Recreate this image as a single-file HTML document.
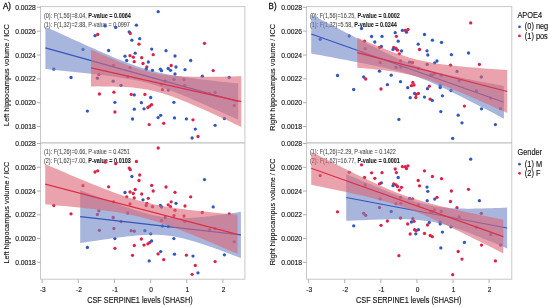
<!DOCTYPE html>
<html><head><meta charset="utf-8"><style>
html,body{margin:0;padding:0;background:#fff;width:550px;height:307px;overflow:hidden;}
svg{display:block;font-family:"Liberation Sans",sans-serif;will-change:transform;}
</style></head><body><svg width="550" height="307" viewBox="0 0 550 307"><rect x="40.5" y="6.6" width="204.4" height="272.6" fill="none" stroke="#c8c8c8" stroke-width="1"/><line x1="40.5" y1="142.9" x2="244.9" y2="142.9" stroke="#b0b0b0" stroke-width="1"/><rect x="306.5" y="6.6" width="205.3" height="272.6" fill="none" stroke="#c8c8c8" stroke-width="1"/><line x1="306.5" y1="142.9" x2="511.8" y2="142.9" stroke="#b0b0b0" stroke-width="1"/><defs><clipPath id="cTL"><rect x="41" y="7" width="203" height="135.5"/></clipPath><clipPath id="cBL"><rect x="41" y="143.5" width="203" height="135.5"/></clipPath><clipPath id="cTR"><rect x="307" y="7" width="204" height="135.5"/></clipPath><clipPath id="cBR"><rect x="307" y="143.5" width="204" height="135.5"/></clipPath></defs><text transform="translate(44.00,17.60) scale(1,1.15)" font-size="5.5" fill="#4a4a4a" stroke="#4a4a4a" stroke-width="0.06" font-family="Liberation Sans, sans-serif" xml:space="preserve">(0): F(1,56)=8.04, <tspan font-weight="bold" fill="#1a1a1a" stroke="#1a1a1a">P-value = 0.0064</tspan></text><text transform="translate(44.00,26.70) scale(1,1.15)" font-size="5.5" fill="#4a4a4a" stroke="#4a4a4a" stroke-width="0.06" font-family="Liberation Sans, sans-serif" xml:space="preserve">(1): F(1,32)=2.88, <tspan>P-value = 0.0997</tspan></text><text transform="translate(44.00,153.50) scale(1,1.15)" font-size="5.5" fill="#4a4a4a" stroke="#4a4a4a" stroke-width="0.06" font-family="Liberation Sans, sans-serif" xml:space="preserve">(1): F(1,26)=0.66, <tspan>P-value = 0.4251</tspan></text><text transform="translate(44.00,162.60) scale(1,1.15)" font-size="5.5" fill="#4a4a4a" stroke="#4a4a4a" stroke-width="0.06" font-family="Liberation Sans, sans-serif" xml:space="preserve">(2): F(1,62)=7.00, <tspan font-weight="bold" fill="#1a1a1a" stroke="#1a1a1a">P-value = 0.0103</tspan></text><text transform="translate(310.00,17.60) scale(1,1.15)" font-size="5.5" fill="#4a4a4a" stroke="#4a4a4a" stroke-width="0.06" font-family="Liberation Sans, sans-serif" xml:space="preserve">(0): F(1,56)=16.25, <tspan font-weight="bold" fill="#1a1a1a" stroke="#1a1a1a">P-value = 0.0002</tspan></text><text transform="translate(310.00,26.70) scale(1,1.15)" font-size="5.5" fill="#4a4a4a" stroke="#4a4a4a" stroke-width="0.06" font-family="Liberation Sans, sans-serif" xml:space="preserve">(1): F(1,32)=5.58, <tspan font-weight="bold" fill="#1a1a1a" stroke="#1a1a1a">P-value = 0.0244</tspan></text><text transform="translate(310.00,153.50) scale(1,1.15)" font-size="5.5" fill="#4a4a4a" stroke="#4a4a4a" stroke-width="0.06" font-family="Liberation Sans, sans-serif" xml:space="preserve">(1): F(1,26)=2.29, <tspan>P-value = 0.1422</tspan></text><text transform="translate(310.00,162.60) scale(1,1.15)" font-size="5.5" fill="#4a4a4a" stroke="#4a4a4a" stroke-width="0.06" font-family="Liberation Sans, sans-serif" xml:space="preserve">(2): F(1,62)=16.77, <tspan font-weight="bold" fill="#1a1a1a" stroke="#1a1a1a">P-value = 0.0001</tspan></text><g clip-path="url(#cTL)"><circle cx="158.2" cy="11.7" r="1.65" fill="#2f58c0"/><circle cx="105.2" cy="25.9" r="1.65" fill="#2f58c0"/><circle cx="115.7" cy="27.4" r="1.65" fill="#2f58c0"/><circle cx="136.4" cy="25.2" r="1.65" fill="#2f58c0"/><circle cx="129.2" cy="31.8" r="1.65" fill="#2f58c0"/><circle cx="130.3" cy="33.4" r="1.65" fill="#dc2248"/><circle cx="95.0" cy="35.7" r="1.65" fill="#2f58c0"/><circle cx="97.7" cy="34.5" r="1.65" fill="#dc2248"/><circle cx="139.7" cy="38.7" r="1.65" fill="#2f58c0"/><circle cx="131.9" cy="40.2" r="1.65" fill="#2f58c0"/><circle cx="139.0" cy="44.2" r="1.65" fill="#dc2248"/><circle cx="204.5" cy="43.3" r="1.65" fill="#dc2248"/><circle cx="83.0" cy="49.4" r="1.65" fill="#2f58c0"/><circle cx="108.6" cy="50.5" r="1.65" fill="#2f58c0"/><circle cx="151.7" cy="49.1" r="1.65" fill="#2f58c0"/><circle cx="166.0" cy="50.7" r="1.65" fill="#2f58c0"/><circle cx="135.2" cy="53.2" r="1.65" fill="#2f58c0"/><circle cx="125.0" cy="56.2" r="1.65" fill="#2f58c0"/><circle cx="130.0" cy="55.7" r="1.65" fill="#dc2248"/><circle cx="133.3" cy="57.2" r="1.65" fill="#dc2248"/><circle cx="141.7" cy="57.7" r="1.65" fill="#dc2248"/><circle cx="153.2" cy="54.7" r="1.65" fill="#dc2248"/><circle cx="126.7" cy="60.5" r="1.65" fill="#2f58c0"/><circle cx="134.2" cy="61.7" r="1.65" fill="#dc2248"/><circle cx="148.3" cy="62.0" r="1.65" fill="#2f58c0"/><circle cx="143.0" cy="63.5" r="1.65" fill="#dc2248"/><circle cx="146.8" cy="67.0" r="1.65" fill="#dc2248"/><circle cx="146.2" cy="69.2" r="1.65" fill="#2f58c0"/><circle cx="152.5" cy="70.4" r="1.65" fill="#2f58c0"/><circle cx="160.4" cy="69.2" r="1.65" fill="#2f58c0"/><circle cx="161.5" cy="70.7" r="1.65" fill="#2f58c0"/><circle cx="168.2" cy="68.5" r="1.65" fill="#2f58c0"/><circle cx="175.0" cy="56.0" r="1.65" fill="#2f58c0"/><circle cx="190.7" cy="60.5" r="1.65" fill="#2f58c0"/><circle cx="171.2" cy="65.5" r="1.65" fill="#dc2248"/><circle cx="176.0" cy="67.0" r="1.65" fill="#2f58c0"/><circle cx="170.5" cy="70.3" r="1.65" fill="#2f58c0"/><circle cx="185.0" cy="69.7" r="1.65" fill="#2f58c0"/><circle cx="175.0" cy="74.0" r="1.65" fill="#2f58c0"/><circle cx="213.2" cy="70.6" r="1.65" fill="#dc2248"/><circle cx="202.3" cy="76.2" r="1.65" fill="#2f58c0"/><circle cx="53.8" cy="69.2" r="1.65" fill="#2f58c0"/><circle cx="71.0" cy="77.5" r="1.65" fill="#2f58c0"/><circle cx="98.9" cy="74.5" r="1.65" fill="#dc2248"/><circle cx="97.4" cy="78.2" r="1.65" fill="#2f58c0"/><circle cx="113.5" cy="65.5" r="1.65" fill="#dc2248"/><circle cx="130.0" cy="67.7" r="1.65" fill="#dc2248"/><circle cx="127.7" cy="76.7" r="1.65" fill="#dc2248"/><circle cx="113.2" cy="81.2" r="1.65" fill="#2f58c0"/><circle cx="121.0" cy="85.3" r="1.65" fill="#2f58c0"/><circle cx="113.9" cy="92.2" r="1.65" fill="#dc2248"/><circle cx="174.0" cy="79.3" r="1.65" fill="#2f58c0"/><circle cx="184.0" cy="79.7" r="1.65" fill="#dc2248"/><circle cx="229.2" cy="77.5" r="1.65" fill="#2f58c0"/><circle cx="184.7" cy="85.3" r="1.65" fill="#dc2248"/><circle cx="165.2" cy="81.2" r="1.65" fill="#2f58c0"/><circle cx="162.5" cy="89.7" r="1.65" fill="#dc2248"/><circle cx="168.3" cy="90.1" r="1.65" fill="#2f58c0"/><circle cx="99.4" cy="94.0" r="1.65" fill="#dc2248"/><circle cx="87.4" cy="111.1" r="1.65" fill="#2f58c0"/><circle cx="131.2" cy="94.4" r="1.65" fill="#dc2248"/><circle cx="134.3" cy="94.9" r="1.65" fill="#2f58c0"/><circle cx="144.9" cy="94.4" r="1.65" fill="#dc2248"/><circle cx="150.7" cy="97.5" r="1.65" fill="#2f58c0"/><circle cx="114.9" cy="102.3" r="1.65" fill="#2f58c0"/><circle cx="141.4" cy="102.7" r="1.65" fill="#2f58c0"/><circle cx="134.3" cy="109.2" r="1.65" fill="#2f58c0"/><circle cx="144.0" cy="108.8" r="1.65" fill="#2f58c0"/><circle cx="147.9" cy="107.5" r="1.65" fill="#dc2248"/><circle cx="149.8" cy="106.1" r="1.65" fill="#dc2248"/><circle cx="151.6" cy="104.6" r="1.65" fill="#dc2248"/><circle cx="114.9" cy="112.0" r="1.65" fill="#dc2248"/><circle cx="132.5" cy="119.0" r="1.65" fill="#2f58c0"/><circle cx="158.1" cy="117.6" r="1.65" fill="#2f58c0"/><circle cx="160.7" cy="115.3" r="1.65" fill="#2f58c0"/><circle cx="149.2" cy="124.6" r="1.65" fill="#dc2248"/><circle cx="163.7" cy="123.3" r="1.65" fill="#dc2248"/><circle cx="173.9" cy="102.3" r="1.65" fill="#2f58c0"/><circle cx="174.5" cy="117.9" r="1.65" fill="#2f58c0"/><circle cx="186.4" cy="118.9" r="1.65" fill="#2f58c0"/><circle cx="193.0" cy="119.8" r="1.65" fill="#dc2248"/><circle cx="195.3" cy="129.1" r="1.65" fill="#2f58c0"/><circle cx="192.1" cy="138.0" r="1.65" fill="#2f58c0"/><circle cx="198.0" cy="136.5" r="1.65" fill="#dc2248"/><circle cx="215.1" cy="125.3" r="1.65" fill="#2f58c0"/><circle cx="224.4" cy="118.5" r="1.65" fill="#2f58c0"/><circle cx="234.2" cy="105.5" r="1.65" fill="#dc2248"/><circle cx="215.1" cy="92.3" r="1.65" fill="#2f58c0"/><circle cx="209.5" cy="93.6" r="1.65" fill="#dc2248"/><circle cx="161.5" cy="84.2" r="1.65" fill="#dc2248"/><path d="M45.40,26.68 L50.22,28.90 L55.04,31.11 L59.86,33.32 L64.68,35.53 L69.50,37.72 L74.32,39.91 L79.14,42.09 L83.96,44.26 L88.78,46.41 L93.60,48.55 L98.42,50.67 L103.24,52.77 L108.06,54.84 L112.88,56.88 L117.70,58.88 L122.52,60.82 L127.34,62.71 L132.16,64.51 L136.98,66.23 L141.80,67.84 L146.62,69.34 L151.44,70.71 L156.26,71.95 L161.08,73.07 L165.90,74.08 L170.72,75.00 L175.54,75.83 L180.36,76.59 L185.18,77.30 L190.00,77.97 L194.82,78.60 L199.64,79.20 L204.46,79.78 L209.28,80.33 L214.10,80.87 L218.92,81.39 L223.74,81.91 L228.56,82.41 L233.38,82.90 L238.20,83.39 L238.20,119.81 L233.38,117.61 L228.56,115.42 L223.74,113.23 L218.92,111.06 L214.10,108.89 L209.28,106.74 L204.46,104.61 L199.64,102.50 L194.82,100.41 L190.00,98.35 L185.18,96.33 L180.36,94.36 L175.54,92.43 L170.72,90.58 L165.90,88.81 L161.08,87.13 L156.26,85.56 L151.44,84.12 L146.62,82.80 L141.80,81.61 L136.98,80.53 L132.16,79.56 L127.34,78.68 L122.52,77.88 L117.70,77.14 L112.88,76.44 L108.06,75.79 L103.24,75.18 L98.42,74.59 L93.60,74.02 L88.78,73.47 L83.96,72.94 L79.14,72.42 L74.32,71.91 L69.50,71.41 L64.68,70.92 L59.86,70.44 L55.04,69.96 L50.22,69.49 L45.40,69.02 Z" fill="rgba(110,132,197,0.6)"/><line x1="45.40" y1="47.85" x2="238.20" y2="101.60" stroke="#3456be" stroke-width="1.2"/><path d="M91.00,49.40 L94.76,51.10 L98.52,52.80 L102.27,54.47 L106.03,56.12 L109.79,57.76 L113.55,59.36 L117.30,60.93 L121.06,62.47 L124.82,63.95 L128.57,65.39 L132.33,66.77 L136.09,68.07 L139.85,69.29 L143.61,70.42 L147.36,71.45 L151.12,72.38 L154.88,73.19 L158.63,73.89 L162.39,74.50 L166.15,75.00 L169.91,75.42 L173.67,75.76 L177.42,76.04 L181.18,76.25 L184.94,76.43 L188.69,76.56 L192.45,76.65 L196.21,76.72 L199.97,76.76 L203.72,76.78 L207.48,76.78 L211.24,76.76 L215.00,76.74 L218.76,76.70 L222.51,76.65 L226.27,76.59 L230.03,76.52 L233.79,76.45 L237.54,76.37 L241.30,76.28 L241.30,126.92 L237.54,125.15 L233.79,123.38 L230.03,121.62 L226.27,119.87 L222.51,118.13 L218.76,116.39 L215.00,114.67 L211.24,112.96 L207.48,111.26 L203.72,109.57 L199.97,107.91 L196.21,106.26 L192.45,104.64 L188.69,103.05 L184.94,101.50 L181.18,99.99 L177.42,98.52 L173.67,97.11 L169.91,95.77 L166.15,94.50 L162.39,93.32 L158.63,92.24 L154.88,91.25 L151.12,90.38 L147.36,89.62 L143.61,88.97 L139.85,88.41 L136.09,87.95 L132.33,87.57 L128.57,87.26 L124.82,87.01 L121.06,86.81 L117.30,86.66 L113.55,86.55 L109.79,86.47 L106.03,86.42 L102.27,86.39 L98.52,86.37 L94.76,86.38 L91.00,86.40 Z" fill="rgba(220,102,117,0.6)"/><line x1="91.00" y1="67.90" x2="241.30" y2="101.60" stroke="#dd3048" stroke-width="1.2"/></g><g clip-path="url(#cBL)"><circle cx="158.2" cy="148.0" r="1.65" fill="#dc2248"/><circle cx="105.2" cy="162.2" r="1.65" fill="#dc2248"/><circle cx="115.7" cy="163.7" r="1.65" fill="#dc2248"/><circle cx="136.4" cy="161.5" r="1.65" fill="#dc2248"/><circle cx="129.2" cy="168.1" r="1.65" fill="#dc2248"/><circle cx="130.3" cy="169.7" r="1.65" fill="#dc2248"/><circle cx="95.0" cy="172.0" r="1.65" fill="#dc2248"/><circle cx="97.7" cy="170.8" r="1.65" fill="#dc2248"/><circle cx="139.7" cy="175.0" r="1.65" fill="#dc2248"/><circle cx="131.9" cy="176.5" r="1.65" fill="#2f58c0"/><circle cx="139.0" cy="180.5" r="1.65" fill="#dc2248"/><circle cx="204.5" cy="179.6" r="1.65" fill="#2f58c0"/><circle cx="83.0" cy="185.7" r="1.65" fill="#dc2248"/><circle cx="108.6" cy="186.8" r="1.65" fill="#dc2248"/><circle cx="151.7" cy="185.4" r="1.65" fill="#dc2248"/><circle cx="166.0" cy="187.0" r="1.65" fill="#dc2248"/><circle cx="135.2" cy="189.5" r="1.65" fill="#dc2248"/><circle cx="125.0" cy="192.5" r="1.65" fill="#2f58c0"/><circle cx="130.0" cy="192.0" r="1.65" fill="#dc2248"/><circle cx="133.3" cy="193.5" r="1.65" fill="#dc2248"/><circle cx="141.7" cy="194.0" r="1.65" fill="#dc2248"/><circle cx="153.2" cy="191.0" r="1.65" fill="#dc2248"/><circle cx="126.7" cy="196.8" r="1.65" fill="#dc2248"/><circle cx="134.2" cy="198.0" r="1.65" fill="#dc2248"/><circle cx="148.3" cy="198.3" r="1.65" fill="#dc2248"/><circle cx="143.0" cy="199.8" r="1.65" fill="#2f58c0"/><circle cx="146.8" cy="203.3" r="1.65" fill="#dc2248"/><circle cx="146.2" cy="205.5" r="1.65" fill="#dc2248"/><circle cx="152.5" cy="206.7" r="1.65" fill="#dc2248"/><circle cx="160.4" cy="205.5" r="1.65" fill="#2f58c0"/><circle cx="161.5" cy="207.0" r="1.65" fill="#2f58c0"/><circle cx="168.2" cy="204.8" r="1.65" fill="#dc2248"/><circle cx="175.0" cy="192.3" r="1.65" fill="#dc2248"/><circle cx="190.7" cy="196.8" r="1.65" fill="#dc2248"/><circle cx="171.2" cy="201.8" r="1.65" fill="#dc2248"/><circle cx="176.0" cy="203.3" r="1.65" fill="#2f58c0"/><circle cx="170.5" cy="206.6" r="1.65" fill="#dc2248"/><circle cx="185.0" cy="206.0" r="1.65" fill="#dc2248"/><circle cx="175.0" cy="210.3" r="1.65" fill="#dc2248"/><circle cx="213.2" cy="206.9" r="1.65" fill="#2f58c0"/><circle cx="202.3" cy="212.5" r="1.65" fill="#dc2248"/><circle cx="53.8" cy="205.5" r="1.65" fill="#dc2248"/><circle cx="71.0" cy="213.8" r="1.65" fill="#dc2248"/><circle cx="98.9" cy="210.8" r="1.65" fill="#dc2248"/><circle cx="97.4" cy="214.5" r="1.65" fill="#dc2248"/><circle cx="113.5" cy="201.8" r="1.65" fill="#dc2248"/><circle cx="130.0" cy="204.0" r="1.65" fill="#dc2248"/><circle cx="127.7" cy="213.0" r="1.65" fill="#dc2248"/><circle cx="113.2" cy="217.5" r="1.65" fill="#dc2248"/><circle cx="121.0" cy="221.6" r="1.65" fill="#dc2248"/><circle cx="113.9" cy="228.5" r="1.65" fill="#dc2248"/><circle cx="174.0" cy="215.6" r="1.65" fill="#dc2248"/><circle cx="184.0" cy="216.0" r="1.65" fill="#dc2248"/><circle cx="229.2" cy="213.8" r="1.65" fill="#dc2248"/><circle cx="184.7" cy="221.6" r="1.65" fill="#dc2248"/><circle cx="165.2" cy="217.5" r="1.65" fill="#2f58c0"/><circle cx="162.5" cy="226.0" r="1.65" fill="#2f58c0"/><circle cx="168.3" cy="226.4" r="1.65" fill="#2f58c0"/><circle cx="99.4" cy="230.3" r="1.65" fill="#dc2248"/><circle cx="87.4" cy="247.4" r="1.65" fill="#2f58c0"/><circle cx="131.2" cy="230.7" r="1.65" fill="#dc2248"/><circle cx="134.3" cy="231.2" r="1.65" fill="#dc2248"/><circle cx="144.9" cy="230.7" r="1.65" fill="#2f58c0"/><circle cx="150.7" cy="233.8" r="1.65" fill="#2f58c0"/><circle cx="114.9" cy="238.6" r="1.65" fill="#2f58c0"/><circle cx="141.4" cy="239.0" r="1.65" fill="#dc2248"/><circle cx="134.3" cy="245.5" r="1.65" fill="#dc2248"/><circle cx="144.0" cy="245.1" r="1.65" fill="#dc2248"/><circle cx="147.9" cy="243.8" r="1.65" fill="#dc2248"/><circle cx="149.8" cy="242.4" r="1.65" fill="#dc2248"/><circle cx="151.6" cy="240.9" r="1.65" fill="#2f58c0"/><circle cx="114.9" cy="248.3" r="1.65" fill="#dc2248"/><circle cx="132.5" cy="255.3" r="1.65" fill="#dc2248"/><circle cx="158.1" cy="253.9" r="1.65" fill="#dc2248"/><circle cx="160.7" cy="251.6" r="1.65" fill="#2f58c0"/><circle cx="149.2" cy="260.9" r="1.65" fill="#2f58c0"/><circle cx="163.7" cy="259.6" r="1.65" fill="#dc2248"/><circle cx="173.9" cy="238.6" r="1.65" fill="#2f58c0"/><circle cx="174.5" cy="254.2" r="1.65" fill="#2f58c0"/><circle cx="186.4" cy="255.2" r="1.65" fill="#dc2248"/><circle cx="193.0" cy="256.1" r="1.65" fill="#2f58c0"/><circle cx="195.3" cy="265.4" r="1.65" fill="#dc2248"/><circle cx="192.1" cy="274.3" r="1.65" fill="#dc2248"/><circle cx="198.0" cy="272.8" r="1.65" fill="#2f58c0"/><circle cx="215.1" cy="261.6" r="1.65" fill="#dc2248"/><circle cx="224.4" cy="254.8" r="1.65" fill="#2f58c0"/><circle cx="234.2" cy="241.8" r="1.65" fill="#2f58c0"/><circle cx="215.1" cy="228.6" r="1.65" fill="#dc2248"/><circle cx="209.5" cy="229.9" r="1.65" fill="#2f58c0"/><circle cx="161.5" cy="220.5" r="1.65" fill="#dc2248"/><path d="M80.20,190.11 L84.22,191.65 L88.23,193.18 L92.25,194.71 L96.27,196.22 L100.29,197.73 L104.31,199.23 L108.32,200.71 L112.34,202.17 L116.36,203.62 L120.38,205.05 L124.39,206.45 L128.41,207.82 L132.43,209.15 L136.44,210.44 L140.46,211.67 L144.48,212.84 L148.50,213.93 L152.51,214.92 L156.53,215.80 L160.55,216.56 L164.57,217.18 L168.58,217.65 L172.60,217.98 L176.62,218.17 L180.64,218.22 L184.66,218.17 L188.67,218.01 L192.69,217.78 L196.71,217.47 L200.73,217.11 L204.74,216.70 L208.76,216.25 L212.78,215.77 L216.79,215.27 L220.81,214.74 L224.83,214.19 L228.85,213.63 L232.87,213.05 L236.88,212.46 L240.90,211.86 L240.90,257.94 L236.88,256.43 L232.87,254.92 L228.85,253.43 L224.83,251.95 L220.81,250.49 L216.79,249.04 L212.78,247.62 L208.76,246.23 L204.74,244.87 L200.73,243.54 L196.71,242.26 L192.69,241.04 L188.67,239.89 L184.66,238.82 L180.64,237.85 L176.62,236.99 L172.60,236.27 L168.58,235.68 L164.57,235.23 L160.55,234.94 L156.53,234.78 L152.51,234.75 L148.50,234.83 L144.48,235.00 L140.46,235.25 L136.44,235.57 L132.43,235.94 L128.41,236.36 L124.39,236.82 L120.38,237.30 L116.36,237.81 L112.34,238.35 L108.32,238.90 L104.31,239.46 L100.29,240.04 L96.27,240.64 L92.25,241.24 L88.23,241.85 L84.22,242.46 L80.20,243.09 Z" fill="rgba(110,132,197,0.6)"/><line x1="80.20" y1="216.60" x2="240.90" y2="234.90" stroke="#3456be" stroke-width="1.2"/><path d="M45.20,164.06 L50.01,166.14 L54.82,168.22 L59.62,170.28 L64.43,172.34 L69.24,174.39 L74.05,176.42 L78.85,178.44 L83.66,180.44 L88.47,182.43 L93.28,184.38 L98.08,186.31 L102.89,188.21 L107.70,190.07 L112.51,191.88 L117.31,193.63 L122.12,195.32 L126.93,196.94 L131.74,198.47 L136.54,199.90 L141.35,201.24 L146.16,202.48 L150.97,203.61 L155.77,204.65 L160.58,205.60 L165.39,206.46 L170.19,207.26 L175.00,207.99 L179.81,208.67 L184.62,209.30 L189.43,209.90 L194.23,210.47 L199.04,211.01 L203.85,211.52 L208.66,212.02 L213.46,212.50 L218.27,212.97 L223.08,213.42 L227.88,213.87 L232.69,214.30 L237.50,214.73 L237.50,253.87 L232.69,251.79 L227.88,249.72 L223.08,247.66 L218.27,245.61 L213.46,243.57 L208.66,241.55 L203.85,239.54 L199.04,237.55 L194.23,235.59 L189.43,233.65 L184.62,231.74 L179.81,229.87 L175.00,228.05 L170.19,226.27 L165.39,224.56 L160.58,222.92 L155.77,221.36 L150.97,219.90 L146.16,218.52 L141.35,217.26 L136.54,216.09 L131.74,215.02 L126.93,214.05 L122.12,213.16 L117.31,212.35 L112.51,211.59 L107.70,210.90 L102.89,210.25 L98.08,209.64 L93.28,209.07 L88.47,208.52 L83.66,208.00 L78.85,207.49 L74.05,207.01 L69.24,206.54 L64.43,206.08 L59.62,205.63 L54.82,205.19 L50.01,204.76 L45.20,204.34 Z" fill="rgba(220,102,117,0.6)"/><line x1="45.20" y1="184.20" x2="237.50" y2="234.30" stroke="#dd3048" stroke-width="1.2"/></g><g clip-path="url(#cTR)"><circle cx="320.2" cy="39.3" r="1.65" fill="#2f58c0"/><circle cx="349.2" cy="36.0" r="1.65" fill="#2f58c0"/><circle cx="361.5" cy="28.5" r="1.65" fill="#2f58c0"/><circle cx="364.5" cy="41.2" r="1.65" fill="#dc2248"/><circle cx="365.2" cy="48.7" r="1.65" fill="#dc2248"/><circle cx="371.6" cy="36.5" r="1.65" fill="#2f58c0"/><circle cx="374.8" cy="42.0" r="1.65" fill="#2f58c0"/><circle cx="382.0" cy="36.4" r="1.65" fill="#2f58c0"/><circle cx="395.2" cy="32.7" r="1.65" fill="#2f58c0"/><circle cx="396.4" cy="36.3" r="1.65" fill="#dc2248"/><circle cx="402.4" cy="30.4" r="1.65" fill="#2f58c0"/><circle cx="405.3" cy="30.4" r="1.65" fill="#dc2248"/><circle cx="408.0" cy="29.5" r="1.65" fill="#dc2248"/><circle cx="406.5" cy="32.2" r="1.65" fill="#2f58c0"/><circle cx="398.2" cy="41.2" r="1.65" fill="#2f58c0"/><circle cx="424.5" cy="34.5" r="1.65" fill="#2f58c0"/><circle cx="432.4" cy="40.2" r="1.65" fill="#2f58c0"/><circle cx="418.2" cy="44.2" r="1.65" fill="#2f58c0"/><circle cx="419.5" cy="49.5" r="1.65" fill="#dc2248"/><circle cx="381.4" cy="46.5" r="1.65" fill="#2f58c0"/><circle cx="379.5" cy="47.5" r="1.65" fill="#dc2248"/><circle cx="393.7" cy="47.5" r="1.65" fill="#dc2248"/><circle cx="396.0" cy="48.5" r="1.65" fill="#dc2248"/><circle cx="397.5" cy="50.2" r="1.65" fill="#dc2248"/><circle cx="393.0" cy="49.4" r="1.65" fill="#2f58c0"/><circle cx="401.5" cy="51.0" r="1.65" fill="#2f58c0"/><circle cx="427.0" cy="50.8" r="1.65" fill="#2f58c0"/><circle cx="399.3" cy="53.8" r="1.65" fill="#dc2248"/><circle cx="427.8" cy="55.0" r="1.65" fill="#2f58c0"/><circle cx="434.7" cy="62.8" r="1.65" fill="#2f58c0"/><circle cx="470.7" cy="22.9" r="1.65" fill="#dc2248"/><circle cx="441.5" cy="42.4" r="1.65" fill="#2f58c0"/><circle cx="337.5" cy="75.5" r="1.65" fill="#2f58c0"/><circle cx="363.7" cy="77.0" r="1.65" fill="#2f58c0"/><circle cx="365.7" cy="79.0" r="1.65" fill="#dc2248"/><circle cx="353.7" cy="89.5" r="1.65" fill="#2f58c0"/><circle cx="380.2" cy="62.5" r="1.65" fill="#dc2248"/><circle cx="400.5" cy="61.0" r="1.65" fill="#dc2248"/><circle cx="409.5" cy="62.2" r="1.65" fill="#2f58c0"/><circle cx="412.5" cy="62.5" r="1.65" fill="#dc2248"/><circle cx="427.2" cy="64.4" r="1.65" fill="#2f58c0"/><circle cx="396.0" cy="67.4" r="1.65" fill="#2f58c0"/><circle cx="400.8" cy="67.0" r="1.65" fill="#dc2248"/><circle cx="418.5" cy="68.5" r="1.65" fill="#2f58c0"/><circle cx="432.0" cy="75.2" r="1.65" fill="#2f58c0"/><circle cx="379.5" cy="71.2" r="1.65" fill="#2f58c0"/><circle cx="391.2" cy="75.2" r="1.65" fill="#2f58c0"/><circle cx="400.5" cy="81.7" r="1.65" fill="#2f58c0"/><circle cx="387.4" cy="84.7" r="1.65" fill="#2f58c0"/><circle cx="412.8" cy="82.4" r="1.65" fill="#dc2248"/><circle cx="414.0" cy="85.0" r="1.65" fill="#dc2248"/><circle cx="411.4" cy="85.7" r="1.65" fill="#dc2248"/><circle cx="407.7" cy="87.7" r="1.65" fill="#2f58c0"/><circle cx="381.0" cy="89.0" r="1.65" fill="#dc2248"/><circle cx="429.3" cy="86.2" r="1.65" fill="#dc2248"/><circle cx="427.5" cy="88.7" r="1.65" fill="#2f58c0"/><circle cx="451.4" cy="54.7" r="1.65" fill="#2f58c0"/><circle cx="468.5" cy="53.0" r="1.65" fill="#2f58c0"/><circle cx="437.0" cy="61.0" r="1.65" fill="#2f58c0"/><circle cx="450.5" cy="65.2" r="1.65" fill="#dc2248"/><circle cx="479.4" cy="64.4" r="1.65" fill="#dc2248"/><circle cx="457.0" cy="71.4" r="1.65" fill="#2f58c0"/><circle cx="481.3" cy="77.0" r="1.65" fill="#2f58c0"/><circle cx="459.2" cy="80.7" r="1.65" fill="#2f58c0"/><circle cx="434.5" cy="73.7" r="1.65" fill="#dc2248"/><circle cx="441.2" cy="75.2" r="1.65" fill="#2f58c0"/><circle cx="430.7" cy="75.2" r="1.65" fill="#2f58c0"/><circle cx="440.2" cy="85.7" r="1.65" fill="#2f58c0"/><circle cx="440.2" cy="87.6" r="1.65" fill="#2f58c0"/><circle cx="451.0" cy="90.5" r="1.65" fill="#2f58c0"/><circle cx="476.4" cy="90.9" r="1.65" fill="#2f58c0"/><circle cx="430.2" cy="99.2" r="1.65" fill="#dc2248"/><circle cx="414.6" cy="93.4" r="1.65" fill="#2f58c0"/><circle cx="416.1" cy="94.4" r="1.65" fill="#dc2248"/><circle cx="418.4" cy="93.4" r="1.65" fill="#dc2248"/><circle cx="415.8" cy="97.5" r="1.65" fill="#dc2248"/><circle cx="410.2" cy="97.7" r="1.65" fill="#2f58c0"/><circle cx="424.5" cy="97.1" r="1.65" fill="#2f58c0"/><circle cx="432.3" cy="100.4" r="1.65" fill="#2f58c0"/><circle cx="442.4" cy="95.8" r="1.65" fill="#2f58c0"/><circle cx="464.4" cy="106.1" r="1.65" fill="#dc2248"/><circle cx="440.8" cy="111.6" r="1.65" fill="#2f58c0"/><circle cx="458.2" cy="115.2" r="1.65" fill="#2f58c0"/><circle cx="462.0" cy="122.8" r="1.65" fill="#2f58c0"/><circle cx="481.5" cy="108.8" r="1.65" fill="#2f58c0"/><circle cx="495.4" cy="124.6" r="1.65" fill="#2f58c0"/><circle cx="452.7" cy="138.4" r="1.65" fill="#2f58c0"/><circle cx="398.9" cy="119.4" r="1.65" fill="#2f58c0"/><circle cx="490.7" cy="98.1" r="1.65" fill="#dc2248"/><circle cx="500.6" cy="108.7" r="1.65" fill="#2f58c0"/><path d="M311.20,14.44 L316.02,16.97 L320.83,19.50 L325.65,22.02 L330.47,24.54 L335.29,27.06 L340.10,29.57 L344.92,32.07 L349.74,34.57 L354.56,37.05 L359.38,39.53 L364.19,41.99 L369.01,44.44 L373.83,46.86 L378.64,49.26 L383.46,51.63 L388.28,53.96 L393.10,56.23 L397.91,58.44 L402.73,60.57 L407.55,62.59 L412.37,64.49 L417.18,66.26 L422.00,67.90 L426.82,69.40 L431.64,70.78 L436.45,72.06 L441.27,73.26 L446.09,74.40 L450.91,75.49 L455.73,76.53 L460.54,77.54 L465.36,78.53 L470.18,79.50 L475.00,80.45 L479.81,81.39 L484.63,82.32 L489.45,83.24 L494.26,84.15 L499.08,85.05 L503.90,85.95 L503.90,118.65 L499.08,116.13 L494.26,113.62 L489.45,111.12 L484.63,108.62 L479.81,106.14 L475.00,103.66 L470.18,101.20 L465.36,98.75 L460.54,96.32 L455.73,93.92 L450.91,91.55 L446.09,89.22 L441.27,86.94 L436.45,84.73 L431.64,82.59 L426.82,80.56 L422.00,78.65 L417.18,76.87 L412.37,75.22 L407.55,73.71 L402.73,72.32 L397.91,71.03 L393.10,69.82 L388.28,68.68 L383.46,67.60 L378.64,66.55 L373.83,65.53 L369.01,64.54 L364.19,63.57 L359.38,62.62 L354.56,61.68 L349.74,60.75 L344.92,59.83 L340.10,58.92 L335.29,58.02 L330.47,57.12 L325.65,56.22 L320.83,55.33 L316.02,54.45 L311.20,53.56 Z" fill="rgba(110,132,197,0.6)"/><line x1="311.20" y1="34.00" x2="503.90" y2="102.30" stroke="#3456be" stroke-width="1.2"/><path d="M357.30,37.56 L361.05,39.19 L364.80,40.81 L368.54,42.40 L372.29,43.98 L376.04,45.53 L379.79,47.05 L383.53,48.54 L387.28,50.00 L391.03,51.41 L394.77,52.78 L398.52,54.09 L402.27,55.34 L406.02,56.53 L409.76,57.64 L413.51,58.68 L417.26,59.65 L421.01,60.53 L424.75,61.35 L428.50,62.10 L432.25,62.78 L436.00,63.40 L439.75,63.97 L443.49,64.49 L447.24,64.97 L450.99,65.42 L454.74,65.83 L458.48,66.22 L462.23,66.59 L465.98,66.93 L469.73,67.26 L473.47,67.57 L477.22,67.87 L480.97,68.16 L484.72,68.43 L488.46,68.70 L492.21,68.96 L495.96,69.21 L499.70,69.46 L503.45,69.70 L507.20,69.93 L507.20,113.07 L503.45,111.36 L499.70,109.65 L495.96,107.95 L492.21,106.26 L488.46,104.57 L484.72,102.90 L480.97,101.23 L477.22,99.57 L473.47,97.92 L469.73,96.29 L465.98,94.67 L462.23,93.07 L458.48,91.49 L454.74,89.94 L450.99,88.41 L447.24,86.91 L443.49,85.44 L439.75,84.02 L436.00,82.65 L432.25,81.32 L428.50,80.06 L424.75,78.86 L421.01,77.73 L417.26,76.67 L413.51,75.69 L409.76,74.79 L406.02,73.96 L402.27,73.20 L398.52,72.51 L394.77,71.87 L391.03,71.29 L387.28,70.76 L383.53,70.27 L379.79,69.82 L376.04,69.40 L372.29,69.00 L368.54,68.63 L364.80,68.28 L361.05,67.95 L357.30,67.64 Z" fill="rgba(220,102,117,0.6)"/><line x1="357.30" y1="52.60" x2="507.20" y2="91.50" stroke="#dd3048" stroke-width="1.2"/></g><g clip-path="url(#cBR)"><circle cx="320.2" cy="175.6" r="1.65" fill="#dc2248"/><circle cx="349.2" cy="172.3" r="1.65" fill="#dc2248"/><circle cx="361.5" cy="164.8" r="1.65" fill="#dc2248"/><circle cx="364.5" cy="177.5" r="1.65" fill="#dc2248"/><circle cx="365.2" cy="185.0" r="1.65" fill="#dc2248"/><circle cx="371.6" cy="172.8" r="1.65" fill="#dc2248"/><circle cx="374.8" cy="178.3" r="1.65" fill="#dc2248"/><circle cx="382.0" cy="172.7" r="1.65" fill="#dc2248"/><circle cx="395.2" cy="169.0" r="1.65" fill="#dc2248"/><circle cx="396.4" cy="172.6" r="1.65" fill="#dc2248"/><circle cx="402.4" cy="166.7" r="1.65" fill="#dc2248"/><circle cx="405.3" cy="166.7" r="1.65" fill="#dc2248"/><circle cx="408.0" cy="165.8" r="1.65" fill="#dc2248"/><circle cx="406.5" cy="168.5" r="1.65" fill="#dc2248"/><circle cx="398.2" cy="177.5" r="1.65" fill="#2f58c0"/><circle cx="424.5" cy="170.8" r="1.65" fill="#dc2248"/><circle cx="432.4" cy="176.5" r="1.65" fill="#dc2248"/><circle cx="418.2" cy="180.5" r="1.65" fill="#dc2248"/><circle cx="419.5" cy="185.8" r="1.65" fill="#dc2248"/><circle cx="381.4" cy="182.8" r="1.65" fill="#2f58c0"/><circle cx="379.5" cy="183.8" r="1.65" fill="#dc2248"/><circle cx="393.7" cy="183.8" r="1.65" fill="#dc2248"/><circle cx="396.0" cy="184.8" r="1.65" fill="#dc2248"/><circle cx="397.5" cy="186.5" r="1.65" fill="#dc2248"/><circle cx="393.0" cy="185.7" r="1.65" fill="#2f58c0"/><circle cx="401.5" cy="187.3" r="1.65" fill="#dc2248"/><circle cx="427.0" cy="187.1" r="1.65" fill="#2f58c0"/><circle cx="399.3" cy="190.1" r="1.65" fill="#dc2248"/><circle cx="427.8" cy="191.3" r="1.65" fill="#2f58c0"/><circle cx="434.7" cy="199.1" r="1.65" fill="#2f58c0"/><circle cx="470.7" cy="159.2" r="1.65" fill="#2f58c0"/><circle cx="441.5" cy="178.7" r="1.65" fill="#dc2248"/><circle cx="337.5" cy="211.8" r="1.65" fill="#dc2248"/><circle cx="363.7" cy="213.3" r="1.65" fill="#dc2248"/><circle cx="365.7" cy="215.3" r="1.65" fill="#dc2248"/><circle cx="353.7" cy="225.8" r="1.65" fill="#2f58c0"/><circle cx="380.2" cy="198.8" r="1.65" fill="#dc2248"/><circle cx="400.5" cy="197.3" r="1.65" fill="#dc2248"/><circle cx="409.5" cy="198.5" r="1.65" fill="#2f58c0"/><circle cx="412.5" cy="198.8" r="1.65" fill="#dc2248"/><circle cx="427.2" cy="200.7" r="1.65" fill="#2f58c0"/><circle cx="396.0" cy="203.7" r="1.65" fill="#dc2248"/><circle cx="400.8" cy="203.3" r="1.65" fill="#dc2248"/><circle cx="418.5" cy="204.8" r="1.65" fill="#dc2248"/><circle cx="432.0" cy="211.5" r="1.65" fill="#dc2248"/><circle cx="379.5" cy="207.5" r="1.65" fill="#dc2248"/><circle cx="391.2" cy="211.5" r="1.65" fill="#2f58c0"/><circle cx="400.5" cy="218.0" r="1.65" fill="#dc2248"/><circle cx="387.4" cy="221.0" r="1.65" fill="#dc2248"/><circle cx="412.8" cy="218.7" r="1.65" fill="#dc2248"/><circle cx="414.0" cy="221.3" r="1.65" fill="#dc2248"/><circle cx="411.4" cy="222.0" r="1.65" fill="#2f58c0"/><circle cx="407.7" cy="224.0" r="1.65" fill="#dc2248"/><circle cx="381.0" cy="225.3" r="1.65" fill="#dc2248"/><circle cx="429.3" cy="222.5" r="1.65" fill="#2f58c0"/><circle cx="427.5" cy="225.0" r="1.65" fill="#dc2248"/><circle cx="451.4" cy="191.0" r="1.65" fill="#dc2248"/><circle cx="468.5" cy="189.3" r="1.65" fill="#dc2248"/><circle cx="437.0" cy="197.3" r="1.65" fill="#dc2248"/><circle cx="450.5" cy="201.5" r="1.65" fill="#dc2248"/><circle cx="479.4" cy="200.7" r="1.65" fill="#2f58c0"/><circle cx="457.0" cy="207.7" r="1.65" fill="#dc2248"/><circle cx="481.3" cy="213.3" r="1.65" fill="#dc2248"/><circle cx="459.2" cy="217.0" r="1.65" fill="#dc2248"/><circle cx="434.5" cy="210.0" r="1.65" fill="#dc2248"/><circle cx="441.2" cy="211.5" r="1.65" fill="#dc2248"/><circle cx="430.7" cy="211.5" r="1.65" fill="#dc2248"/><circle cx="440.2" cy="222.0" r="1.65" fill="#2f58c0"/><circle cx="440.2" cy="223.9" r="1.65" fill="#2f58c0"/><circle cx="451.0" cy="226.8" r="1.65" fill="#2f58c0"/><circle cx="476.4" cy="227.2" r="1.65" fill="#2f58c0"/><circle cx="430.2" cy="235.5" r="1.65" fill="#dc2248"/><circle cx="414.6" cy="229.7" r="1.65" fill="#dc2248"/><circle cx="416.1" cy="230.7" r="1.65" fill="#dc2248"/><circle cx="418.4" cy="229.7" r="1.65" fill="#2f58c0"/><circle cx="415.8" cy="233.8" r="1.65" fill="#2f58c0"/><circle cx="410.2" cy="234.0" r="1.65" fill="#dc2248"/><circle cx="424.5" cy="233.4" r="1.65" fill="#dc2248"/><circle cx="432.3" cy="236.7" r="1.65" fill="#dc2248"/><circle cx="442.4" cy="232.1" r="1.65" fill="#2f58c0"/><circle cx="464.4" cy="242.4" r="1.65" fill="#2f58c0"/><circle cx="440.8" cy="247.9" r="1.65" fill="#2f58c0"/><circle cx="458.2" cy="251.5" r="1.65" fill="#dc2248"/><circle cx="462.0" cy="259.1" r="1.65" fill="#dc2248"/><circle cx="481.5" cy="245.1" r="1.65" fill="#dc2248"/><circle cx="495.4" cy="260.9" r="1.65" fill="#dc2248"/><circle cx="452.7" cy="274.7" r="1.65" fill="#dc2248"/><circle cx="398.9" cy="255.7" r="1.65" fill="#dc2248"/><circle cx="490.7" cy="234.4" r="1.65" fill="#2f58c0"/><circle cx="500.6" cy="245.0" r="1.65" fill="#2f58c0"/><path d="M346.20,174.13 L350.22,175.84 L354.25,177.55 L358.27,179.26 L362.29,180.95 L366.31,182.64 L370.33,184.32 L374.36,185.98 L378.38,187.63 L382.40,189.27 L386.43,190.88 L390.45,192.47 L394.47,194.04 L398.49,195.57 L402.51,197.06 L406.54,198.51 L410.56,199.89 L414.58,201.20 L418.61,202.44 L422.63,203.57 L426.65,204.59 L430.67,205.49 L434.69,206.26 L438.72,206.91 L442.74,207.43 L446.76,207.84 L450.78,208.15 L454.81,208.37 L458.83,208.52 L462.85,208.61 L466.88,208.65 L470.90,208.65 L474.92,208.62 L478.94,208.55 L482.97,208.47 L486.99,208.36 L491.01,208.23 L495.03,208.10 L499.06,207.95 L503.08,207.79 L507.10,207.62 L507.10,248.38 L503.08,246.69 L499.06,245.00 L495.03,243.33 L491.01,241.67 L486.99,240.02 L482.97,238.38 L478.94,236.77 L474.92,235.18 L470.90,233.62 L466.88,232.10 L462.85,230.61 L458.83,229.18 L454.81,227.81 L450.78,226.50 L446.76,225.29 L442.74,224.17 L438.72,223.17 L434.69,222.29 L430.67,221.53 L426.65,220.91 L422.63,220.41 L418.61,220.01 L414.58,219.72 L410.56,219.51 L406.54,219.37 L402.51,219.29 L398.49,219.25 L394.47,219.26 L390.45,219.30 L386.43,219.37 L382.40,219.46 L378.38,219.57 L374.36,219.69 L370.33,219.83 L366.31,219.99 L362.29,220.15 L358.27,220.32 L354.25,220.50 L350.22,220.68 L346.20,220.87 Z" fill="rgba(110,132,197,0.6)"/><line x1="346.20" y1="197.50" x2="507.10" y2="228.00" stroke="#3456be" stroke-width="1.2"/><path d="M311.20,151.90 L316.00,154.32 L320.81,156.74 L325.61,159.16 L330.41,161.56 L335.21,163.96 L340.01,166.34 L344.82,168.72 L349.62,171.08 L354.42,173.42 L359.23,175.75 L364.03,178.05 L368.83,180.32 L373.63,182.55 L378.44,184.74 L383.24,186.88 L388.04,188.96 L392.84,190.96 L397.64,192.89 L402.45,194.72 L407.25,196.45 L412.05,198.08 L416.86,199.62 L421.66,201.06 L426.46,202.44 L431.26,203.74 L436.06,204.99 L440.87,206.19 L445.67,207.35 L450.47,208.48 L455.27,209.58 L460.08,210.66 L464.88,211.72 L469.68,212.77 L474.49,213.80 L479.29,214.83 L484.09,215.84 L488.89,216.85 L493.70,217.84 L498.50,218.84 L503.30,219.82 L503.30,253.38 L498.50,250.95 L493.70,248.53 L488.89,246.11 L484.09,243.70 L479.29,241.30 L474.49,238.91 L469.68,236.53 L464.88,234.16 L460.08,231.81 L455.27,229.47 L450.47,227.16 L445.67,224.87 L440.87,222.62 L436.06,220.40 L431.26,218.24 L426.46,216.12 L421.66,214.08 L416.86,212.11 L412.05,210.24 L407.25,208.45 L402.45,206.77 L397.64,205.18 L392.84,203.69 L388.04,202.28 L383.24,200.94 L378.44,199.67 L373.63,198.44 L368.83,197.26 L364.03,196.12 L359.23,195.00 L354.42,193.91 L349.62,192.84 L344.82,191.79 L340.01,190.75 L335.21,189.72 L330.41,188.70 L325.61,187.69 L320.81,186.69 L316.00,185.69 L311.20,184.70 Z" fill="rgba(220,102,117,0.6)"/><line x1="311.20" y1="168.30" x2="503.30" y2="236.60" stroke="#dd3048" stroke-width="1.2"/></g><line x1="36.9" y1="7.30" x2="40.5" y2="7.30" stroke="#999" stroke-width="0.8"/><text transform="translate(35.90,9.90) scale(1,1.15)" font-size="6.8" text-anchor="end" fill="#111" stroke="#111" stroke-width="0.12" font-family="Liberation Sans, sans-serif">0.0028</text><line x1="36.9" y1="31.15" x2="40.5" y2="31.15" stroke="#999" stroke-width="0.8"/><text transform="translate(35.90,33.75) scale(1,1.15)" font-size="6.8" text-anchor="end" fill="#111" stroke="#111" stroke-width="0.12" font-family="Liberation Sans, sans-serif">0.0026</text><line x1="36.9" y1="55.00" x2="40.5" y2="55.00" stroke="#999" stroke-width="0.8"/><text transform="translate(35.90,57.60) scale(1,1.15)" font-size="6.8" text-anchor="end" fill="#111" stroke="#111" stroke-width="0.12" font-family="Liberation Sans, sans-serif">0.0024</text><line x1="36.9" y1="78.85" x2="40.5" y2="78.85" stroke="#999" stroke-width="0.8"/><text transform="translate(35.90,81.45) scale(1,1.15)" font-size="6.8" text-anchor="end" fill="#111" stroke="#111" stroke-width="0.12" font-family="Liberation Sans, sans-serif">0.0022</text><line x1="36.9" y1="102.70" x2="40.5" y2="102.70" stroke="#999" stroke-width="0.8"/><text transform="translate(35.90,105.30) scale(1,1.15)" font-size="6.8" text-anchor="end" fill="#111" stroke="#111" stroke-width="0.12" font-family="Liberation Sans, sans-serif">0.0020</text><line x1="36.9" y1="126.55" x2="40.5" y2="126.55" stroke="#999" stroke-width="0.8"/><text transform="translate(35.90,129.15) scale(1,1.15)" font-size="6.8" text-anchor="end" fill="#111" stroke="#111" stroke-width="0.12" font-family="Liberation Sans, sans-serif">0.0018</text><line x1="36.9" y1="143.50" x2="40.5" y2="143.50" stroke="#999" stroke-width="0.8"/><text transform="translate(35.90,146.10) scale(1,1.15)" font-size="6.8" text-anchor="end" fill="#111" stroke="#111" stroke-width="0.12" font-family="Liberation Sans, sans-serif">0.0028</text><line x1="36.9" y1="167.26" x2="40.5" y2="167.26" stroke="#999" stroke-width="0.8"/><text transform="translate(35.90,169.86) scale(1,1.15)" font-size="6.8" text-anchor="end" fill="#111" stroke="#111" stroke-width="0.12" font-family="Liberation Sans, sans-serif">0.0026</text><line x1="36.9" y1="191.02" x2="40.5" y2="191.02" stroke="#999" stroke-width="0.8"/><text transform="translate(35.90,193.62) scale(1,1.15)" font-size="6.8" text-anchor="end" fill="#111" stroke="#111" stroke-width="0.12" font-family="Liberation Sans, sans-serif">0.0024</text><line x1="36.9" y1="214.78" x2="40.5" y2="214.78" stroke="#999" stroke-width="0.8"/><text transform="translate(35.90,217.38) scale(1,1.15)" font-size="6.8" text-anchor="end" fill="#111" stroke="#111" stroke-width="0.12" font-family="Liberation Sans, sans-serif">0.0022</text><line x1="36.9" y1="238.54" x2="40.5" y2="238.54" stroke="#999" stroke-width="0.8"/><text transform="translate(35.90,241.14) scale(1,1.15)" font-size="6.8" text-anchor="end" fill="#111" stroke="#111" stroke-width="0.12" font-family="Liberation Sans, sans-serif">0.0020</text><line x1="36.9" y1="262.30" x2="40.5" y2="262.30" stroke="#999" stroke-width="0.8"/><text transform="translate(35.90,264.90) scale(1,1.15)" font-size="6.8" text-anchor="end" fill="#111" stroke="#111" stroke-width="0.12" font-family="Liberation Sans, sans-serif">0.0018</text><line x1="302.9" y1="7.30" x2="306.5" y2="7.30" stroke="#999" stroke-width="0.8"/><text transform="translate(302.10,9.90) scale(1,1.15)" font-size="6.8" text-anchor="end" fill="#111" stroke="#111" stroke-width="0.12" font-family="Liberation Sans, sans-serif">0.0028</text><line x1="302.9" y1="31.15" x2="306.5" y2="31.15" stroke="#999" stroke-width="0.8"/><text transform="translate(302.10,33.75) scale(1,1.15)" font-size="6.8" text-anchor="end" fill="#111" stroke="#111" stroke-width="0.12" font-family="Liberation Sans, sans-serif">0.0026</text><line x1="302.9" y1="55.00" x2="306.5" y2="55.00" stroke="#999" stroke-width="0.8"/><text transform="translate(302.10,57.60) scale(1,1.15)" font-size="6.8" text-anchor="end" fill="#111" stroke="#111" stroke-width="0.12" font-family="Liberation Sans, sans-serif">0.0024</text><line x1="302.9" y1="78.85" x2="306.5" y2="78.85" stroke="#999" stroke-width="0.8"/><text transform="translate(302.10,81.45) scale(1,1.15)" font-size="6.8" text-anchor="end" fill="#111" stroke="#111" stroke-width="0.12" font-family="Liberation Sans, sans-serif">0.0022</text><line x1="302.9" y1="102.70" x2="306.5" y2="102.70" stroke="#999" stroke-width="0.8"/><text transform="translate(302.10,105.30) scale(1,1.15)" font-size="6.8" text-anchor="end" fill="#111" stroke="#111" stroke-width="0.12" font-family="Liberation Sans, sans-serif">0.0020</text><line x1="302.9" y1="126.55" x2="306.5" y2="126.55" stroke="#999" stroke-width="0.8"/><text transform="translate(302.10,129.15) scale(1,1.15)" font-size="6.8" text-anchor="end" fill="#111" stroke="#111" stroke-width="0.12" font-family="Liberation Sans, sans-serif">0.0018</text><line x1="302.9" y1="143.50" x2="306.5" y2="143.50" stroke="#999" stroke-width="0.8"/><text transform="translate(302.10,146.10) scale(1,1.15)" font-size="6.8" text-anchor="end" fill="#111" stroke="#111" stroke-width="0.12" font-family="Liberation Sans, sans-serif">0.0028</text><line x1="302.9" y1="167.26" x2="306.5" y2="167.26" stroke="#999" stroke-width="0.8"/><text transform="translate(302.10,169.86) scale(1,1.15)" font-size="6.8" text-anchor="end" fill="#111" stroke="#111" stroke-width="0.12" font-family="Liberation Sans, sans-serif">0.0026</text><line x1="302.9" y1="191.02" x2="306.5" y2="191.02" stroke="#999" stroke-width="0.8"/><text transform="translate(302.10,193.62) scale(1,1.15)" font-size="6.8" text-anchor="end" fill="#111" stroke="#111" stroke-width="0.12" font-family="Liberation Sans, sans-serif">0.0024</text><line x1="302.9" y1="214.78" x2="306.5" y2="214.78" stroke="#999" stroke-width="0.8"/><text transform="translate(302.10,217.38) scale(1,1.15)" font-size="6.8" text-anchor="end" fill="#111" stroke="#111" stroke-width="0.12" font-family="Liberation Sans, sans-serif">0.0022</text><line x1="302.9" y1="238.54" x2="306.5" y2="238.54" stroke="#999" stroke-width="0.8"/><text transform="translate(302.10,241.14) scale(1,1.15)" font-size="6.8" text-anchor="end" fill="#111" stroke="#111" stroke-width="0.12" font-family="Liberation Sans, sans-serif">0.0020</text><line x1="302.9" y1="262.30" x2="306.5" y2="262.30" stroke="#999" stroke-width="0.8"/><text transform="translate(302.10,264.90) scale(1,1.15)" font-size="6.8" text-anchor="end" fill="#111" stroke="#111" stroke-width="0.12" font-family="Liberation Sans, sans-serif">0.0018</text><line x1="42.15" y1="279.5" x2="42.15" y2="283" stroke="#999" stroke-width="0.8"/><text transform="translate(42.75,291.90) scale(1,1.15)" font-size="6.6" text-anchor="middle" fill="#111" stroke="#111" stroke-width="0.12" font-family="Liberation Sans, sans-serif">-3</text><line x1="78.30" y1="279.5" x2="78.30" y2="283" stroke="#999" stroke-width="0.8"/><text transform="translate(78.90,291.90) scale(1,1.15)" font-size="6.6" text-anchor="middle" fill="#111" stroke="#111" stroke-width="0.12" font-family="Liberation Sans, sans-serif">-2</text><line x1="114.45" y1="279.5" x2="114.45" y2="283" stroke="#999" stroke-width="0.8"/><text transform="translate(115.05,291.90) scale(1,1.15)" font-size="6.6" text-anchor="middle" fill="#111" stroke="#111" stroke-width="0.12" font-family="Liberation Sans, sans-serif">-1</text><line x1="150.60" y1="279.5" x2="150.60" y2="283" stroke="#999" stroke-width="0.8"/><text transform="translate(151.20,291.90) scale(1,1.15)" font-size="6.6" text-anchor="middle" fill="#111" stroke="#111" stroke-width="0.12" font-family="Liberation Sans, sans-serif">0</text><line x1="186.75" y1="279.5" x2="186.75" y2="283" stroke="#999" stroke-width="0.8"/><text transform="translate(187.35,291.90) scale(1,1.15)" font-size="6.6" text-anchor="middle" fill="#111" stroke="#111" stroke-width="0.12" font-family="Liberation Sans, sans-serif">1</text><line x1="222.90" y1="279.5" x2="222.90" y2="283" stroke="#999" stroke-width="0.8"/><text transform="translate(223.50,291.90) scale(1,1.15)" font-size="6.6" text-anchor="middle" fill="#111" stroke="#111" stroke-width="0.12" font-family="Liberation Sans, sans-serif">2</text><line x1="308.60" y1="279.5" x2="308.60" y2="283" stroke="#999" stroke-width="0.8"/><text transform="translate(309.20,291.90) scale(1,1.15)" font-size="6.6" text-anchor="middle" fill="#111" stroke="#111" stroke-width="0.12" font-family="Liberation Sans, sans-serif">-3</text><line x1="344.70" y1="279.5" x2="344.70" y2="283" stroke="#999" stroke-width="0.8"/><text transform="translate(345.30,291.90) scale(1,1.15)" font-size="6.6" text-anchor="middle" fill="#111" stroke="#111" stroke-width="0.12" font-family="Liberation Sans, sans-serif">-2</text><line x1="380.80" y1="279.5" x2="380.80" y2="283" stroke="#999" stroke-width="0.8"/><text transform="translate(381.40,291.90) scale(1,1.15)" font-size="6.6" text-anchor="middle" fill="#111" stroke="#111" stroke-width="0.12" font-family="Liberation Sans, sans-serif">-1</text><line x1="416.90" y1="279.5" x2="416.90" y2="283" stroke="#999" stroke-width="0.8"/><text transform="translate(417.50,291.90) scale(1,1.15)" font-size="6.6" text-anchor="middle" fill="#111" stroke="#111" stroke-width="0.12" font-family="Liberation Sans, sans-serif">0</text><line x1="453.00" y1="279.5" x2="453.00" y2="283" stroke="#999" stroke-width="0.8"/><text transform="translate(453.60,291.90) scale(1,1.15)" font-size="6.6" text-anchor="middle" fill="#111" stroke="#111" stroke-width="0.12" font-family="Liberation Sans, sans-serif">1</text><line x1="489.10" y1="279.5" x2="489.10" y2="283" stroke="#999" stroke-width="0.8"/><text transform="translate(489.70,291.90) scale(1,1.15)" font-size="6.6" text-anchor="middle" fill="#111" stroke="#111" stroke-width="0.12" font-family="Liberation Sans, sans-serif">2</text><text transform="translate(139.90,303.00) scale(1,1.15)" font-size="7.3" text-anchor="middle" fill="#111" stroke="#111" stroke-width="0.12" font-family="Liberation Sans, sans-serif">CSF SERPINE1 levels (SHASH)</text><text transform="translate(408.70,303.00) scale(1,1.15)" font-size="7.3" text-anchor="middle" fill="#111" stroke="#111" stroke-width="0.12" font-family="Liberation Sans, sans-serif">CSF SERPINE1 levels (SHASH)</text><text transform="translate(9.3,75) rotate(-90)" x="0" y="0" font-size="7.3" text-anchor="middle" fill="#111" stroke="#111" stroke-width="0.12" font-family="Liberation Sans, sans-serif">Left hippocampus volume / ICC</text><text transform="translate(9.3,212.7) rotate(-90)" x="0" y="0" font-size="7.3" text-anchor="middle" fill="#111" stroke="#111" stroke-width="0.12" font-family="Liberation Sans, sans-serif">Left hippocampus volume / ICC</text><text transform="translate(275.4,77.4) rotate(-90)" x="0" y="0" font-size="7.3" text-anchor="middle" fill="#111" stroke="#111" stroke-width="0.12" font-family="Liberation Sans, sans-serif">Right hippocampus volume / ICC</text><text transform="translate(275.4,211.9) rotate(-90)" x="0" y="0" font-size="7.3" text-anchor="middle" fill="#111" stroke="#111" stroke-width="0.12" font-family="Liberation Sans, sans-serif">Right hippocampus volume / ICC</text><text transform="translate(3.00,9.10) scale(1,1.15)" font-size="8" fill="#111" stroke="#111" stroke-width="0.3" font-family="Liberation Sans, sans-serif">A)</text><text transform="translate(268.60,8.90) scale(1,1.15)" font-size="8" fill="#111" stroke="#111" stroke-width="0.25" font-family="Liberation Sans, sans-serif">B)</text><text transform="translate(517.40,17.90) scale(1,1.15)" font-size="7.4" fill="#111" stroke="#111" stroke-width="0.12" font-family="Liberation Sans, sans-serif">APOE4</text><circle cx="519.5" cy="26.8" r="1.4" fill="#2f58c0"/><text transform="translate(524.80,29.40) scale(1,1.15)" font-size="7.4" fill="#111" stroke="#111" stroke-width="0.12" font-family="Liberation Sans, sans-serif">(0) neg</text><circle cx="519.5" cy="35.9" r="1.4" fill="#dc2248"/><text transform="translate(524.80,38.50) scale(1,1.15)" font-size="7.4" fill="#111" stroke="#111" stroke-width="0.12" font-family="Liberation Sans, sans-serif">(1) pos</text><text transform="translate(517.40,155.30) scale(1,1.15)" font-size="7.4" fill="#111" stroke="#111" stroke-width="0.12" font-family="Liberation Sans, sans-serif">Gender</text><circle cx="519.5" cy="164.2" r="1.4" fill="#2f58c0"/><text transform="translate(524.80,166.80) scale(1,1.15)" font-size="7.4" fill="#111" stroke="#111" stroke-width="0.12" font-family="Liberation Sans, sans-serif">(1) M</text><circle cx="519.5" cy="173.3" r="1.4" fill="#dc2248"/><text transform="translate(524.80,175.90) scale(1,1.15)" font-size="7.4" fill="#111" stroke="#111" stroke-width="0.12" font-family="Liberation Sans, sans-serif">(2) F</text></svg></body></html>
